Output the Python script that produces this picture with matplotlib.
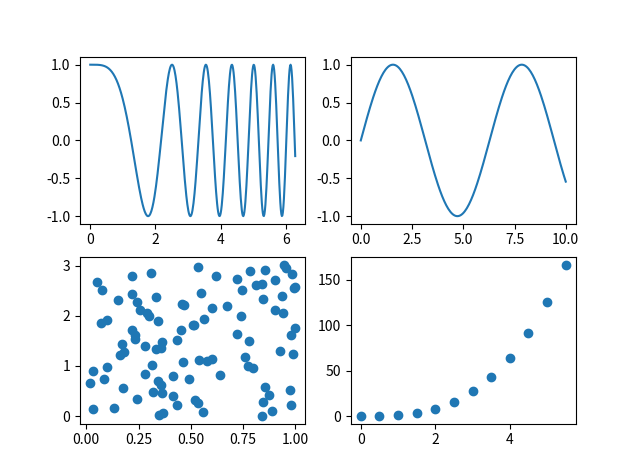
import numpy as np
import matplotlib
matplotlib.use("Agg")
import matplotlib.pyplot as plt

plt.rcParams['font.family'] = ['Noto Sans CJK SC', 'DejaVu Sans']
plt.rcParams['axes.unicode_minus'] = False

# top-left: chirp line cos(x^2) sampled on 0..2pi
chirp_x = np.linspace(0, 2 * np.pi, 400)
chirp_y = np.cos(chirp_x ** 2)
# top-right: sine line on 0..10
sine_x = np.linspace(0, 10, 200)
sine_y = np.sin(sine_x)

scatter_x = [0.051,0.076,0.218,0.310,0.153,0.218,0.242,0.331,0.255,0.291,0.298,0.342,0.069,0.100,
             0.218,0.231,0.234,0.170,0.282,0.360,0.331,0.355,0.161,0.181,0.315,0.032,0.100,0.282,
             0.019,0.085,0.344,0.355,0.415,0.463,0.452,0.433,0.460,0.468,0.489,0.177,0.242,0.318,
             0.360,0.415,0.436,0.032,0.134,0.350,0.366,
             0.533,0.622,0.549,0.508,0.517,0.565,0.602,0.675,0.738,0.719,0.777,0.541,0.576,0.602,
             0.641,0.759,0.775,0.796,0.521,0.533,0.560,0.723,0.744,0.783,0.856,0.810,0.840,0.904,
             0.845,0.945,0.953,0.985,0.993,0.999,0.937,0.904,0.940,0.998,0.980,0.928,0.990,0.856,
             0.875,0.845,0.888,0.841,0.972,0.980]
scatter_y = [2.68,2.52,2.80,2.86,2.32,2.43,2.28,2.38,2.12,2.05,1.99,1.89,1.86,1.92,
             1.72,1.61,1.54,1.43,1.40,1.47,1.34,1.36,1.21,1.27,1.02,0.90,0.98,0.84,
             0.65,0.73,0.69,0.61,0.79,1.07,1.71,1.52,2.24,2.22,0.74,0.55,0.35,0.48,
             0.45,0.40,0.23,0.15,0.17,0.03,0.06,
             2.98,2.79,2.46,1.81,1.82,1.94,2.16,2.19,1.99,1.64,1.49,1.12,1.10,1.14,
             0.82,1.18,0.99,0.95,0.33,0.26,0.08,2.74,2.51,2.89,2.92,2.62,2.64,2.72,
             2.34,3.02,2.96,2.84,2.56,2.58,2.40,2.11,2.06,1.76,1.61,1.30,1.24,0.58,
             0.43,0.28,0.11,0.00,0.51,0.22]

cube_x = [0, 0.5, 1, 1.5, 2, 2.5, 3, 3.5, 4, 4.5, 5, 5.5]
cube_y = [0, 0.125, 1, 3.375, 8, 15.625, 27, 42.875, 64, 91.125, 125, 166.375]

fig, axs = plt.subplots(2, 2, figsize=(6.4, 4.76), dpi=100)
axs[0, 0].plot(chirp_x, chirp_y)
axs[0, 1].plot(sine_x, sine_y)
axs[1, 0].scatter(scatter_x, scatter_y)
axs[1, 1].scatter(cube_x, cube_y)
axs[1, 0].set_xticks([0, 0.25, 0.5, 0.75, 1.0])
fig.savefig("out.png")
